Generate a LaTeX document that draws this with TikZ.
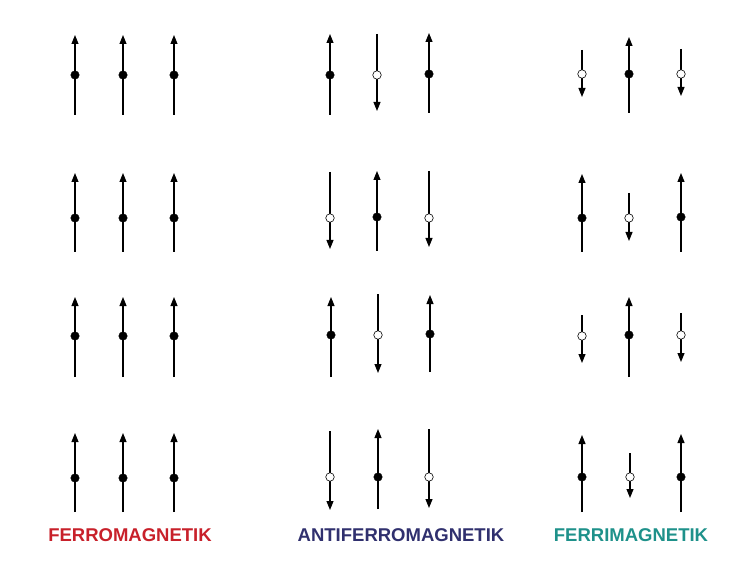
\documentclass[tikz,border=0pt]{standalone}
\usepackage{fontspec}
\setmainfont{Liberation Sans}
\usetikzlibrary{arrows.meta}
\definecolor{ferrored}{RGB}{200,32,42}
\definecolor{antiblue}{RGB}{48,48,110}
\definecolor{ferriteal}{RGB}{30,145,138}
\tikzset{
  spin/.style={line width=1.1pt, -{Triangle[length=9pt,width=7pt]}},
  upatom/.style={circle, fill=black, draw=black, minimum size=8.5pt, inner sep=0pt},
  downatom/.style={circle, fill=white, draw=black, line width=0.6pt, minimum size=8.5pt, inner sep=0pt},
  phasename/.style={font=\bfseries\fontsize{18.5}{20}\selectfont, inner sep=0pt}
}
\begin{document}
\begin{tikzpicture}[x=1pt, y=-1pt]
    \useasboundingbox (0,0) rectangle (756,567);
    % name/x/atom y/tail y/head y/atom style
    \foreach \n/\x/\y/\a/\b/\s in {
      % Ferromagnetic
      f11/75/75/115/35/upatom, f12/123/75/115/35/upatom, f13/174/75/115/35/upatom,
      f21/75/218/252/173/upatom, f22/123/218/252/173/upatom, f23/174/218/252/173/upatom,
      f31/75/336/377/297/upatom, f32/123/336/377/297/upatom, f33/174/336/377/297/upatom,
      f41/75/478/512/433/upatom, f42/123/478/512/433/upatom, f43/174/478/512/433/upatom,
      % Antiferromagnetic
      a11/330/75/115/34/upatom, a12/377/75/34/111/downatom, a13/429/74/113/33/upatom,
      a21/330/218/172/249/downatom, a22/377/217/251/171/upatom, a23/429/218/171/247/downatom,
      a31/331/335/377/297/upatom, a32/378/335/294/373/downatom, a33/430/334/372/295/upatom,
      a41/330/477/431/510/downatom, a42/378/477/509/429/upatom, a43/429/477/429/508/downatom,
      % Ferrimagnetic
      i11/582/74/50/97/downatom, i12/629/74/113/37/upatom, i13/681/74/49/96/downatom,
      i21/582/218/252/174/upatom, i22/629/218/193/241/downatom, i23/681/217/252/173/upatom,
      i31/582/336/315/363/downatom, i32/629/335/377/297/upatom, i33/681/335/313/362/downatom,
      i41/582/477/512/435/upatom, i42/630/477/453/498/downatom, i43/681/477/512/434/upatom} {
      \coordinate (\n-tail) at (\x,\a);
      \coordinate (\n-head) at (\x,\b);
      \draw[spin] (\n-tail) -- (\n-head);
      \node[\s] (\n) at (\x,\y) {};
    }

    % Names of the orderings
    \node[phasename, text=ferrored] (ferro) at (130,535) {FERROMAGNETIK};
    \node[phasename, text=antiblue] (antiferro) at (401,535) {ANTIFERROMAGNETIK};
    \node[phasename, text=ferriteal] (ferri) at (631,535) {FERRIMAGNETIK};
\end{tikzpicture}
\end{document}
